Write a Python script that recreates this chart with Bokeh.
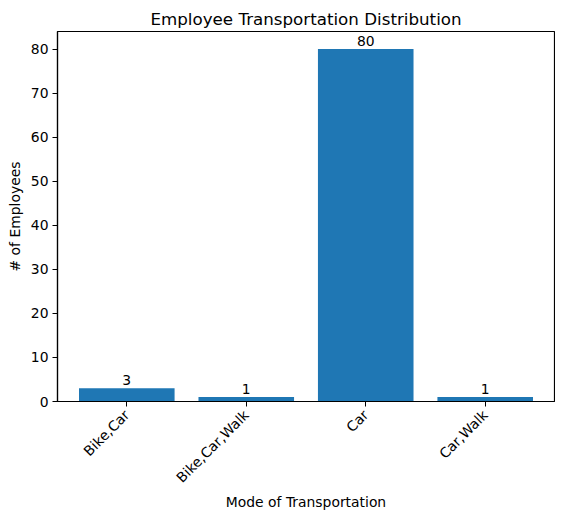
from math import pi
from bokeh.plotting import figure
from bokeh.models import Range1d, ColumnDataSource
from bokeh.core.properties import value
from bokeh.embed import file_html
from bokeh.resources import INLINE

# transportation modes and employee counts
modes = ["Bike,Car", "Bike,Car,Walk", "Car", "Car,Walk"]
counts = [3, 1, 80, 1]
y_ticks = [0, 10, 20, 30, 40, 50, 60, 70, 80]

FONT = "DejaVu Sans"

src = ColumnDataSource(dict(mode=modes, count=counts, label=[str(c) for c in counts]))

p = figure(x_range=modes, y_range=Range1d(0, 84), width=555, height=518,
           title="Employee Transportation Distribution",
           output_backend="svg", toolbar_location=None,
           min_border_left=57, min_border_right=1, min_border_top=31, min_border_bottom=117)
p.x_range.range_padding = 0.04

p.vbar(x="mode", top="count", width=0.8, source=src, color="#1f77b4", line_color=None)
p.text(x="mode", y="count", text="label", source=src, text_align="center",
       text_baseline="alphabetic", text_font=value(FONT), text_font_size="13.9px",
       text_color="black", y_offset=-8)

p.title.align = "center"
p.title.text_font = FONT
p.title.text_font_size = "16.7px"
p.title.text_font_style = "normal"
p.title.text_color = "black"
p.title.offset = 0
p.title.standoff = 6

p.xgrid.visible = False
p.ygrid.visible = False
p.outline_line_color = "black"
p.outline_line_width = 1.2

for ax in (p.xaxis, p.yaxis):
    ax.axis_line_color = "black"
    ax.axis_line_width = 1.2
    ax.major_tick_line_color = "black"
    ax.major_tick_in = 0
    ax.major_tick_out = 5
    ax.minor_tick_line_color = None
    ax.major_label_text_font = FONT
    ax.major_label_text_font_size = "13.9px"
    ax.major_label_text_color = "black"
    ax.axis_label_text_font = FONT
    ax.axis_label_text_font_size = "13.9px"
    ax.axis_label_text_font_style = "normal"
    ax.axis_label_text_color = "black"

p.yaxis.ticker = y_ticks
p.yaxis.major_label_standoff = 4
p.yaxis.axis_label = "# of Employees"
p.xaxis.axis_label = "Mode of Transportation"
p.xaxis.axis_label_standoff = 0
p.xaxis.major_label_orientation = pi / 4
p.xaxis.major_label_standoff = 6

open("out.html", "w").write(file_html(p, INLINE))
